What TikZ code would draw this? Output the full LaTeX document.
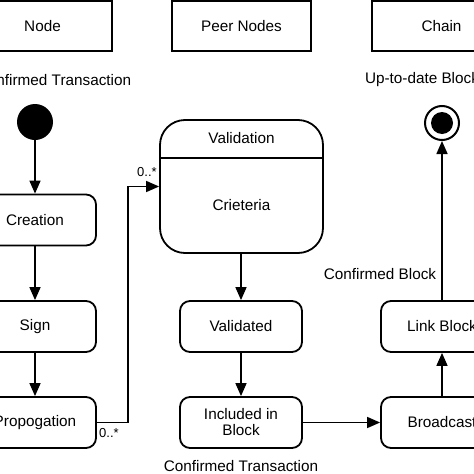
\documentclass[tikz,border=0pt]{standalone}
\usepackage{fontspec}
\setmainfont{Liberation Sans}
\usetikzlibrary{arrows.meta}
\begin{document}
\begin{tikzpicture}[x=1pt,y=-1pt,
  hdr/.style={draw,line width=1.8pt,minimum width=139pt,minimum height=50pt,inner sep=0pt,font=\fontsize{15.3}{18}\selectfont},
  state/.style={draw,line width=1.8pt,rounded corners=10pt,minimum width=122pt,minimum height=51pt,inner sep=0pt,align=center,font=\fontsize{15.3}{18}\selectfont},
  lbl/.style={inner sep=0pt,font=\fontsize{15.3}{18}\selectfont},
  mult/.style={inner sep=0pt,font=\fontsize{13}{15}\selectfont},
  arr/.style={line width=1.6pt,-{Triangle[length=13pt,width=11pt]}}]
\useasboundingbox (0,0) rectangle (474,474);
\clip (0,0) rectangle (474,474);
\fill[white] (0,0) rectangle (474,474);
% headers
\node[hdr] (hnode) at (42.5,26) {Node};
\node[hdr] (hpeer) at (241.5,26) {Peer Nodes};
\node[hdr] (hchain) at (441.5,26) {Chain};
% labels
\node[lbl] (ltop) at (54,80) {Confirmed Transaction};
\node[lbl] (lupd) at (422,80) {Up-to-date Block};
\node[lbl] (lbot) at (241,466) {Confirmed Transaction};
\node[lbl] (lcb) at (380,274) {Confirmed Block};
% initial and final
\node[circle,fill=black,minimum size=36pt,inner sep=0pt] (init) at (35,122) {};
\node[circle,draw,line width=2pt,minimum size=34pt,inner sep=0pt] (fin) at (442,123) {};
\node[circle,fill=black,minimum size=22pt,inner sep=0pt] (fininner) at (442,123) {};
% left column
\node[state] (creation) at (35,220) {Creation};
\node[state] (sign) at (35,326.5) {Sign};
\node[state] (prop) at (35,422.5) {Propogation};
% validation composite
\node[draw,line width=1.8pt,rounded corners=25pt,minimum width=163pt,minimum height=133pt,inner sep=0pt] (val) at (241.5,186.5) {};
\coordinate (divl) at (160,158);
\coordinate (divr) at (323,158);
\draw[line width=1.8pt] (divl) -- (divr);
\node[lbl] (valt) at (241.5,138) {Validation};
\node[lbl] (crit) at (241.5,205) {Crieteria};
% middle column
\node[state] (validated) at (241,326.5) {Validated};
\node[state] (incl) at (241,422.5) {Included in\\[-2pt]Block};
% right column
\node[state] (bcast) at (442,422.5) {Broadcast};
\node[state] (link) at (442,326.5) {Link Block};
% multiplicities
\node[mult] (m1) at (147,172) {0..*};
\node[mult] (m2) at (109,433) {0..*};
% connectors
\draw[arr] (init) -- (creation);
\draw[arr] (creation) -- (sign);
\draw[arr] (sign) -- (prop);
\draw[arr] (prop.east) -- ++(31,0) |- (val.west);
\draw[arr] (val.south -| validated.north) -- (validated.north);
\draw[arr] (validated) -- (incl);
\draw[arr] (incl) -- (bcast);
\draw[arr] (bcast) -- (link);
\draw[arr] (link) -- (fin);
\end{tikzpicture}
\end{document}
